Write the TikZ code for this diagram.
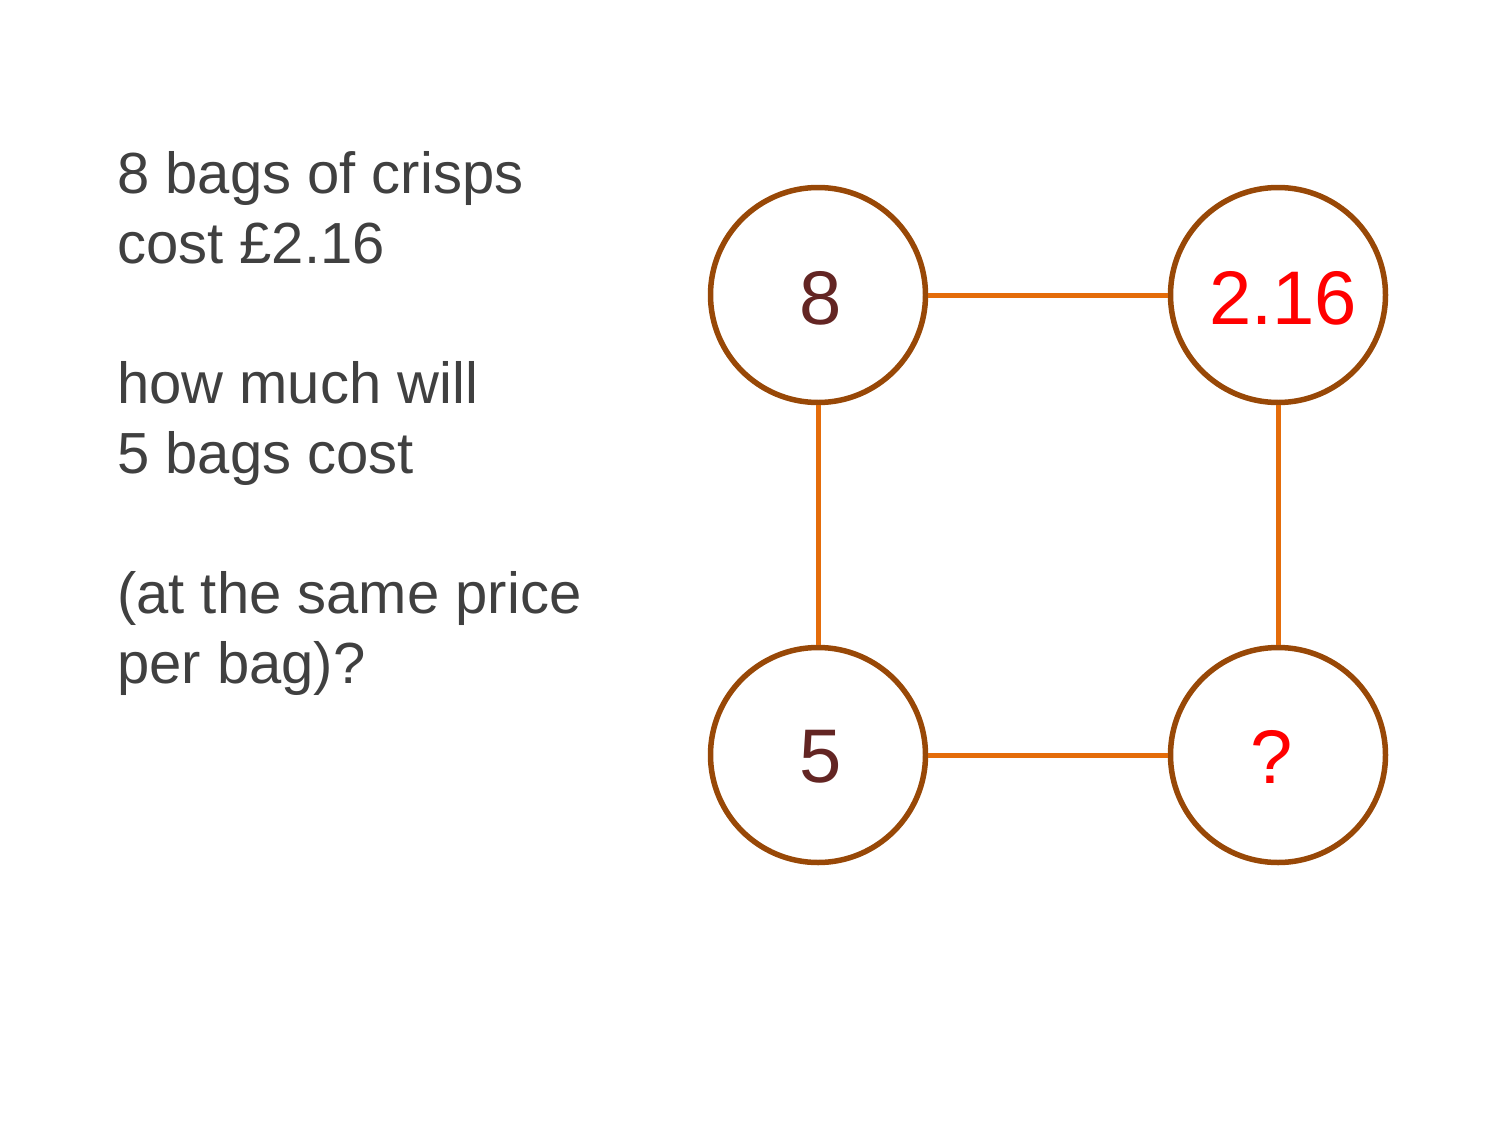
\documentclass[tikz,border=0pt]{standalone}
\usepackage{fontspec}
\setmainfont{Liberation Sans}
\definecolor{txtgray}{HTML}{404040}
\definecolor{ringbrown}{HTML}{984807}
\definecolor{linkorange}{HTML}{E46C0A}
\definecolor{numdark}{HTML}{632523}
\definecolor{numred}{HTML}{FF0000}
\begin{document}
\begin{tikzpicture}[x=1pt,y=-1pt,
  qline/.style={anchor=base west,inner sep=0pt,text=txtgray,font=\fontsize{58}{70}\selectfont},
  ring/.style={circle,draw=ringbrown,line width=5.5pt,minimum size=215pt,inner sep=0pt},
  num/.style={inner sep=0pt,font=\fontsize{76}{90}\selectfont},
  link/.style={draw=linkorange,line width=5pt}]
\useasboundingbox (0,0) rectangle (1500,1125);
\node[qline] (l1) at (117,193) {8 bags of crisps};
\node[qline] (l2) at (117,263) {cost £2.16};
\node[qline] (l3) at (117,403) {how much will};
\node[qline] (l4) at (117,473) {5 bags cost};
\node[qline] (l5) at (117,613) {(at the same price};
\node[qline] (l6) at (117,683) {per bag)?};
\node[ring] (a) at (818,295) {};
\node[ring] (b) at (1278,295) {};
\node[ring] (c) at (818,755) {};
\node[ring] (d) at (1278,755) {};
\node[num,text=numdark] (na) at (821,298) {8};
\node[num,text=numred] (nb) at (1283,298) {2.16};
\node[num,text=numdark] (nc) at (821,757) {5};
\node[num,text=numred] (nd) at (1272,757) {?};
\draw[link] (a) -- (b);
\draw[link] (a) -- (c);
\draw[link] (b) -- (d);
\draw[link] (c) -- (d);
\end{tikzpicture}
\end{document}
